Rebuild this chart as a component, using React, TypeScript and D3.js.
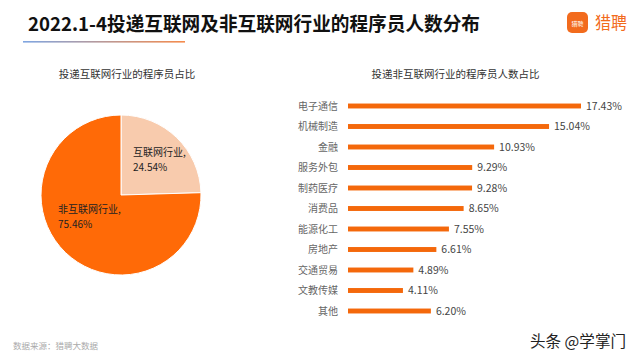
import React from "react";
import * as d3 from "d3";

const pieNames = ["互联网行业", "非互联网行业"];
const pieValues = [24.54, 75.46];
const barCategories = ["电子通信", "机械制造", "金融", "服务外包", "制药医疗", "消费品", "能源化工", "房地产", "交通贸易", "文教传媒", "其他"];
const barValues = [17.43, 15.04, 10.93, 9.29, 9.28, 8.65, 7.55, 6.61, 4.89, 4.11, 6.2];

const FONT = "'Noto Sans CJK SC', 'Noto Sans', sans-serif";
const ORANGE = "#FF6A07";
const PEACH = "#F8CBAD";

export default function App() {
  const cx = 121, cy = 195, r = 80;
  const pie = d3.pie<number>().sort(null).value((d) => d)(pieValues);
  const arc = d3.arc<d3.PieArcDatum<number>>().innerRadius(0).outerRadius(r);
  const pieColors = [PEACH, ORANGE];

  const x = d3.scaleLinear().domain([0, 17.43]).range([348, 581]);
  const y = d3.scaleBand().domain(barCategories).range([95.75, 321.25]).paddingInner(0.76).paddingOuter(0.38);

  return (
    <svg width={640} height={360} style={{ position: "absolute", left: 0, top: 0, background: "#fff" }} fontFamily={FONT}>
      <defs>
        <linearGradient id="ul" x1="0" x2="1" y1="0" y2="0">
          <stop offset="0" stopColor="#7FA6E2" />
          <stop offset="1" stopColor="#F58B4C" />
        </linearGradient>
      </defs>
      <rect width={640} height={360} fill="#fff" />
      <text x={28} y={31} fontSize={19} fontWeight="bold" fill="#111" textLength={452} lengthAdjust="spacingAndGlyphs">
        2022.1-4投递互联网及非互联网行业的程序员人数分布
      </text>
      <rect x={23} y={41} width={162} height={1.6} fill="url(#ul)" />
      <rect x={567} y={12} width={21} height={21} rx={5} fill="#F26B1D" />
      <text x={577.5} y={25.5} fontSize={6} fill="#fff" textAnchor="middle">猎聘</text>
      <text x={595} y={29} fontSize={17} fill="#F26B1D" textLength={32} lengthAdjust="spacingAndGlyphs">猎聘</text>

      <text x={127} y={78} fontSize={10.5} fill="#333" textAnchor="middle">投递互联网行业的程序员占比</text>
      <g transform={`translate(${cx},${cy})`}>
        {pie.map((p, i) => (
          <path key={pieNames[i]} d={arc(p) || ""} fill={pieColors[i]} stroke="#fff" strokeWidth={1} />
        ))}
      </g>
      <text x={133} y={156} fontSize={10} fill="#222">{pieNames[0]},</text>
      <text x={133} y={171} fontSize={10} fill="#222">{pieValues[0].toFixed(2)}%</text>
      <text x={58} y={213} fontSize={10} fill="#222">{pieNames[1]},</text>
      <text x={58} y={228} fontSize={10} fill="#222">{pieValues[1].toFixed(2)}%</text>

      <text x={455.5} y={78} fontSize={10.5} fill="#333" textAnchor="middle">投递非互联网行业的程序员人数占比</text>
      {barCategories.map((c, i) => {
        const yy = y(c)!;
        const h = y.bandwidth();
        return (
          <g key={c}>
            <rect x={x(0)} y={yy} width={x(barValues[i]) - x(0)} height={h} fill="#F4680B" />
            <text x={338} y={yy + h / 2} dy="0.35em" fontSize={10} fill="#666" textAnchor="end">{c}</text>
            <text x={x(barValues[i]) + 5} y={yy + h / 2} dy="0.35em" fontSize={10.5} fill="#444">{barValues[i].toFixed(2)}%</text>
          </g>
        );
      })}

      <text x={13} y={349} fontSize={8.5} fill="#aaa">数据来源：猎聘大数据</text>
      <text x={530} y={347} fontSize={15.5} fill="#222" textLength={96} lengthAdjust="spacingAndGlyphs">头条 @学掌门</text>
    </svg>
  );
}
